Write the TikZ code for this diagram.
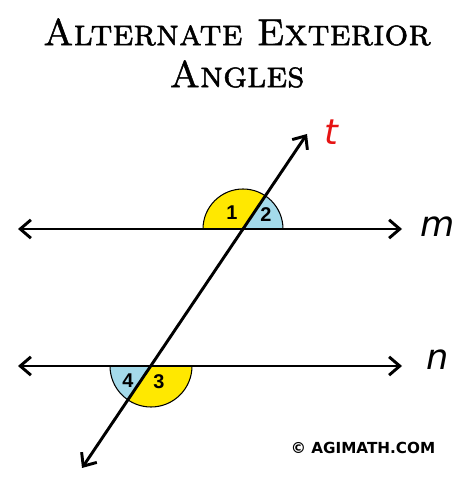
\documentclass[tikz,border=0pt]{standalone}
\usepackage{fontspec}
\newfontfamily\sansfont{DejaVu Sans}
\newfontfamily\numfont{Liberation Sans}
\newfontfamily\titlefont[FakeBold=1.3]{Latin Modern Roman Caps}
\usetikzlibrary{arrows.meta}
\definecolor{angyellow}{RGB}{255,232,0}
\definecolor{angblue}{RGB}{164,218,234}
\definecolor{tred}{RGB}{230,20,20}

\begin{document}
\begin{tikzpicture}
    [x=0.03cm,y=0.03cm,line join=round,
     line/.style={line width=2.5pt,{Straight Barb[length=3.2mm,width=5.5mm]}-{Straight Barb[length=3.2mm,width=5.5mm]}},
     num/.style={font=\numfont\bfseries\fontsize{17}{17}\selectfont},
     var/.style={font=\sansfont\itshape\fontsize{30}{30}\selectfont},
     title/.style={font=\titlefont\fontsize{32}{32}\selectfont}]
  \useasboundingbox (0,0) rectangle (474,484);

  % title
  \node[title] (title1) at (237,452) {Alternate Exterior};
  \node[title] (title2) at (237,410) {Angles};

  % points
  \coordinate (mL) at (18,255);
  \coordinate (mR) at (402,255);
  \coordinate (nL) at (18,118);
  \coordinate (nR) at (402,118);
  \coordinate (tB) at (82,16);
  \coordinate (tT) at (307,350);
  \coordinate (P) at (243,255);
  \coordinate (Q) at (151,118);

  % angles
  \fill[angyellow] (P) -- +(56.1:40) arc (56.1:180:40) -- cycle;
  \fill[angblue] (P) -- +(0:40) arc (0:56.1:40) -- cycle;
  \draw[line width=0.9pt] (P) +(0:40) arc (0:180:40);
  \fill[angblue] (Q) -- +(180:41) arc (180:236.1:41) -- cycle;
  \fill[angyellow] (Q) -- +(236.1:41) arc (236.1:360:41) -- cycle;
  \draw[line width=0.9pt] (Q) +(180:41) arc (180:360:41);

  % lines
  \foreach \from/\to in {mL/mR, nL/nR, tB/tT}
    \draw[line] (\from) -- (\to);

  % labels
  \node[num] (a1) at (232,271) {1};
  \node[num] (a2) at (266,269) {2};
  \node[num] (a4) at (128,103) {4};
  \node[num] (a3) at (159,102) {3};
  \node[var,text=tred] (t) at (331,352) {t};
  \node[var] (m) at (438,257) {m};
  \node[var] (n) at (438,124) {n};

  \node[font=\sansfont\bfseries\fontsize{13}{13}\selectfont] (copy) at (363,36) {© AGIMATH.COM};
\end{tikzpicture}
\end{document}
